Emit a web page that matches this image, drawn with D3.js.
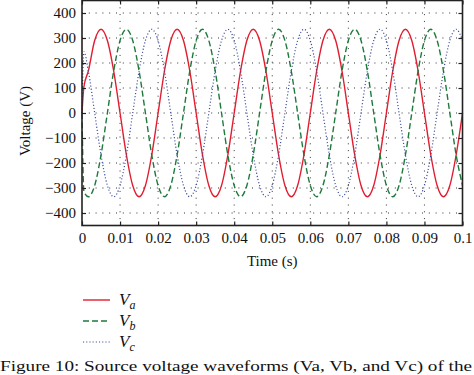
<!DOCTYPE html>
<html>
<head>
<meta charset="utf-8">
<script src="https://cdn.jsdelivr.net/npm/d3@7"></script>
<style>
	body { margin: 0; background: #fff; }
	svg { display: block; }
	text { font-family: "Liberation Serif", "Times New Roman", serif; fill: #111; }
</style>
</head>
<body>
<div id="chart"></div>
<script>

// time samples (s), first two points are the start-up transient
const time = [0, 0.0005,
	0.00167, 0.00333, 0.005, 0.00667, 0.00833, 0.01, 0.01167, 0.01333, 0.015, 0.01667, 0.01833, 0.02,
	0.02167, 0.02333, 0.025, 0.02667, 0.02833, 0.03, 0.03167, 0.03333, 0.035, 0.03667, 0.03833, 0.04,
	0.04167, 0.04333, 0.045, 0.04667, 0.04833, 0.05, 0.05167, 0.05333, 0.055, 0.05667, 0.05833, 0.06,
	0.06167, 0.06333, 0.065, 0.06667, 0.06833, 0.07, 0.07167, 0.07333, 0.075, 0.07667, 0.07833, 0.08,
	0.08167, 0.08333, 0.085, 0.08667, 0.08833, 0.09, 0.09167, 0.09333, 0.095, 0.09667, 0.09833, 0.1];

const va = [0, 105,
	168, 290, 335, 290, 168, 0, -168, -290, -335, -290, -168, 0,
	168, 290, 335, 290, 168, 0, -168, -290, -335, -290, -168, 0,
	168, 290, 335, 290, 168, 0, -168, -290, -335, -290, -168, 0,
	168, 290, 335, 290, 168, 0, -168, -290, -335, -290, -168, 0,
	168, 290, 335, 290, 168, 0, -168, -290, -335, -290, -168, 0];

const vb = [0, -315,
	-335, -290, -168, 0, 168, 290, 335, 290, 168, 0, -168, -290,
	-335, -290, -168, 0, 168, 290, 335, 290, 168, 0, -168, -290,
	-335, -290, -168, 0, 168, 290, 335, 290, 168, 0, -168, -290,
	-335, -290, -168, 0, 168, 290, 335, 290, 168, 0, -168, -290,
	-335, -290, -168, 0, 168, 290, 335, 290, 168, 0, -168, -290];

const vc = [0, 245,
	168, 0, -168, -290, -335, -290, -168, 0, 168, 290, 335, 290,
	168, 0, -168, -290, -335, -290, -168, 0, 168, 290, 335, 290,
	168, 0, -168, -290, -335, -290, -168, 0, 168, 290, 335, 290,
	168, 0, -168, -290, -335, -290, -168, 0, 168, 290, 335, 290,
	168, 0, -168, -290, -335, -290, -168, 0, 168, 290, 335, 290];

const seriesNames = ["a", "b", "c"];

const xTicks = [0, 0.01, 0.02, 0.03, 0.04, 0.05, 0.06, 0.07, 0.08, 0.09, 0.1];
const xTickLabels = ["0", "0.01", "0.02", "0.03", "0.04", "0.05", "0.06", "0.07", "0.08", "0.09", "0.1"];
const yTicks = [-400, -300, -200, -100, 0, 100, 200, 300, 400];
const yTickLabels = ["\u2212400", "\u2212300", "\u2212200", "\u2212100", "0", "100", "200", "300", "400"];

const caption = "Figure 10: Source voltage waveforms (Va, Vb, and Vc) of the";

const width = 474, height = 375;
const plot = {left: 82, right: 462.5, top: 0.5, bottom: 225.5};
const serif = "'Liberation Serif', 'Times New Roman', serif";

const styles = [
	{color: "#e11d30", dash: null, width: 1.4},
	{color: "#1d7a3a", dash: "6,3", width: 1.4},
	{color: "#3a4c9c", dash: "1.1,2.1", width: 1.2}
];

const svg = d3.select("#chart").append("svg")
	.attr("width", width)
	.attr("height", height);

const x = d3.scaleLinear().domain([0, 0.1]).range([plot.left, plot.right]);
const y = d3.scaleLinear().domain([-450, 450]).range([plot.bottom, plot.top]);

// dotted grid
const grid = svg.append("g")
	.attr("stroke", "#333")
	.attr("stroke-width", 1)
	.attr("stroke-dasharray", "1,5.8");

grid.selectAll("line.gx")
	.data(xTicks.slice(1, -1))
	.enter().append("line")
	.attr("class", "gx")
	.attr("x1", d => x(d)).attr("x2", d => x(d))
	.attr("y1", plot.top).attr("y2", plot.bottom);

grid.selectAll("line.gy")
	.data(yTicks)
	.enter().append("line")
	.attr("class", "gy")
	.attr("x1", plot.left).attr("x2", plot.right)
	.attr("y1", d => y(d)).attr("y2", d => y(d));

// waveforms
const series = [va, vb, vc];
const line = d3.line()
	.x((d, i) => x(time[i]))
	.y(d => y(d))
	.curve(d3.curveMonotoneX);

svg.append("g").selectAll("path")
	.data(series)
	.enter().append("path")
	.attr("d", d => line(d))
	.attr("fill", "none")
	.attr("stroke", (d, i) => styles[i].color)
	.attr("stroke-width", (d, i) => styles[i].width)
	.attr("stroke-dasharray", (d, i) => styles[i].dash);

// axes, ticks pointing inward on all four sides
const fontSize = 15;

const gBottom = svg.append("g")
	.attr("transform", `translate(0,${plot.bottom})`)
	.call(d3.axisBottom(x).tickValues(xTicks).tickSize(-4).tickPadding(7)
		.tickFormat((d, i) => xTickLabels[i]));

const gTop = svg.append("g")
	.attr("transform", `translate(0,${plot.top})`)
	.call(d3.axisTop(x).tickValues(xTicks).tickSize(-4).tickFormat(""));

const gLeft = svg.append("g")
	.attr("transform", `translate(${plot.left},0)`)
	.call(d3.axisLeft(y).tickValues(yTicks).tickSize(-4).tickPadding(6)
		.tickFormat((d, i) => yTickLabels[i]));

const gRight = svg.append("g")
	.attr("transform", `translate(${plot.right},0)`)
	.call(d3.axisRight(y).tickValues(yTicks).tickSize(-4).tickFormat(""));

[gBottom, gTop, gLeft, gRight].forEach(g => {
	g.attr("font-family", null).attr("font-size", null);
	g.select(".domain").remove();
	g.selectAll(".tick line").attr("stroke", "#222").attr("stroke-width", 1.2);
	g.selectAll("text")
		.style("font-family", serif)
		.style("font-size", fontSize + "px")
		.attr("fill", "#111");
});

svg.append("rect")
	.attr("x", plot.left).attr("y", plot.top)
	.attr("width", plot.right - plot.left)
	.attr("height", plot.bottom - plot.top)
	.attr("fill", "none")
	.attr("stroke", "#222")
	.attr("stroke-width", 1.6);

// axis titles
svg.append("text")
	.attr("x", (plot.left + plot.right) / 2)
	.attr("y", 266)
	.attr("text-anchor", "middle")
	.style("font-family", serif)
	.style("font-size", fontSize + "px")
	.text("Time (s)");

svg.append("text")
	.attr("transform", "translate(30,121) rotate(-90)")
	.attr("text-anchor", "middle")
	.style("font-family", serif)
	.style("font-size", fontSize + "px")
	.text("Voltage (V)");

// legend
const legend = svg.append("g");
const legendY = d3.scalePoint().domain(seriesNames).range([300, 342]);

seriesNames.forEach((name, i) => {
	legend.append("line")
		.attr("x1", 83).attr("x2", 110)
		.attr("y1", legendY(name)).attr("y2", legendY(name))
		.attr("stroke", styles[i].color)
		.attr("stroke-width", styles[i].width)
		.attr("stroke-dasharray", styles[i].dash);

	const t = legend.append("text")
		.attr("x", 119)
		.attr("y", legendY(name) + 5)
		.style("font-family", serif)
		.style("font-size", "17px")
		.style("font-style", "italic");
	t.append("tspan").text("V");
	t.append("tspan")
		.style("font-size", "12px")
		.attr("dy", 4)
		.text(name);
});

// figure caption along the bottom edge
svg.append("text")
	.attr("x", 0)
	.attr("y", 371)
	.style("font-family", serif)
	.style("font-size", "14px")
	.attr("textLength", 472)
	.attr("lengthAdjust", "spacingAndGlyphs")
	.text(caption);

</script>
</body>
</html>
